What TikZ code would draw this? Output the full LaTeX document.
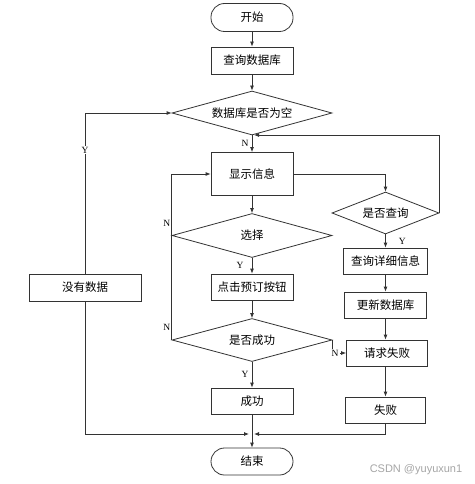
\documentclass[tikz,border=0pt]{standalone}
\usepackage{fontspec}
\setmainfont{Noto Sans CJK SC}
\newfontfamily\latfont{Liberation Serif}
\newfontfamily\wmfont{Liberation Sans}
\usetikzlibrary{shapes.geometric,arrows.meta}
\begin{document}
\begin{tikzpicture}[x=1pt,y=-1pt,
  line/.style={draw=black!80, line width=0.8pt},
  box/.style={rectangle, draw=black!80, line width=0.8pt, minimum width=82pt, minimum height=26pt, inner sep=0pt, font=\fontsize{11.5}{12}\selectfont},
  term/.style={box, rounded corners=13.5pt},
  dia/.style={diamond, aspect=3.6, draw=black!80, line width=0.8pt, inner sep=0pt, minimum width=160pt, minimum height=44pt, font=\fontsize{11.5}{12}\selectfont},
  arr/.style={line, -{Latex[length=5pt,width=4pt]}},
  lab/.style={font=\latfont\fontsize{9.5}{10}\selectfont, inner sep=1pt}]
\useasboundingbox (0,0) rectangle (474,484);
\fill[white] (0,0) rectangle (474,484);
% main column
\node[term, minimum height=28pt] (start) at (252,17.5) {开始};
\node[box, minimum height=27pt] (q) at (252,60.5) {查询数据库};
\node[dia] (d1) at (252,113) {数据库是否为空};
\node[box, minimum height=43pt] (show) at (252,174) {显示信息};
\node[dia] (d2) at (252,235.5) {选择};
\node[box] (click) at (252,287) {点击预订按钮};
\node[dia, minimum height=43pt] (d3) at (252,340) {是否成功};
\node[box] (ok) at (252,401) {成功};
\node[term, minimum height=27pt] (end) at (252,461.5) {结束};
% left
\node[box, minimum width=112pt, minimum height=27pt] (nodata) at (85,287.5) {没有数据};
% right column
\node[dia, aspect=2.5, minimum width=107pt, minimum height=42pt] (d4) at (385.5,213) {是否查询};
\node[box, minimum width=84pt] (detail) at (385.5,261) {查询详细信息};
\node[box, minimum width=82pt] (upd) at (385.5,305) {更新数据库};
\node[box, minimum width=81pt] (fail1) at (387,353) {请求失败};
\node[box, minimum width=80pt] (fail2) at (385.5,410) {失败};
\coordinate (mL) at (249,434);
\coordinate (mR) at (254,434);
\coordinate (j1) at (254,135);
% connectors
\draw[arr] (start) -- (q);
\draw[arr] (q) -- (d1);
\draw[arr] (d1) -- node[lab, left, pos=0.45, xshift=-2pt]{N} (show);
\draw[arr] (show) -- (d2);
\draw[arr] (d2) -- node[lab, left, xshift=-7pt]{Y} (click);
\draw[arr] (click) -- (d3);
\draw[arr] (d3) -- node[lab, left, xshift=-2pt]{Y} (ok);
\draw[arr] (ok) -- (end);
\draw[arr] (d2.west) |- node[lab, left, pos=0.1]{N} (show.west);
\draw[line] (d3.west) -- node[lab, left, pos=0.12]{N} (d2.west);
\draw[arr] (nodata.north) |- node[lab, fill=white, pos=0.385]{Y} (d1.west);
\draw[arr] (nodata.south) |- (mL);
\draw[arr] (fail2.south) |- (mR);
\draw[arr] (show.east) -| (d4.north);
\draw[arr] (d4.east) |- (j1);
\draw[arr] (d4) -- node[lab, right, xshift=12pt]{Y} (detail);
\draw[arr] (detail) -- (upd);
\draw[arr] (upd) -- (fail1.north -| upd.south);
\draw[arr] (fail1.south -| upd.south) -- (fail2);
\draw[arr] (d3.east) |- node[lab, fill=white, pos=0.6]{N} (fail1.west);
\node[font=\wmfont\fontsize{11}{12}\selectfont, text=black!35] (wm) at (416,470) {CSDN @yuyuxun1};
\end{tikzpicture}
\end{document}
